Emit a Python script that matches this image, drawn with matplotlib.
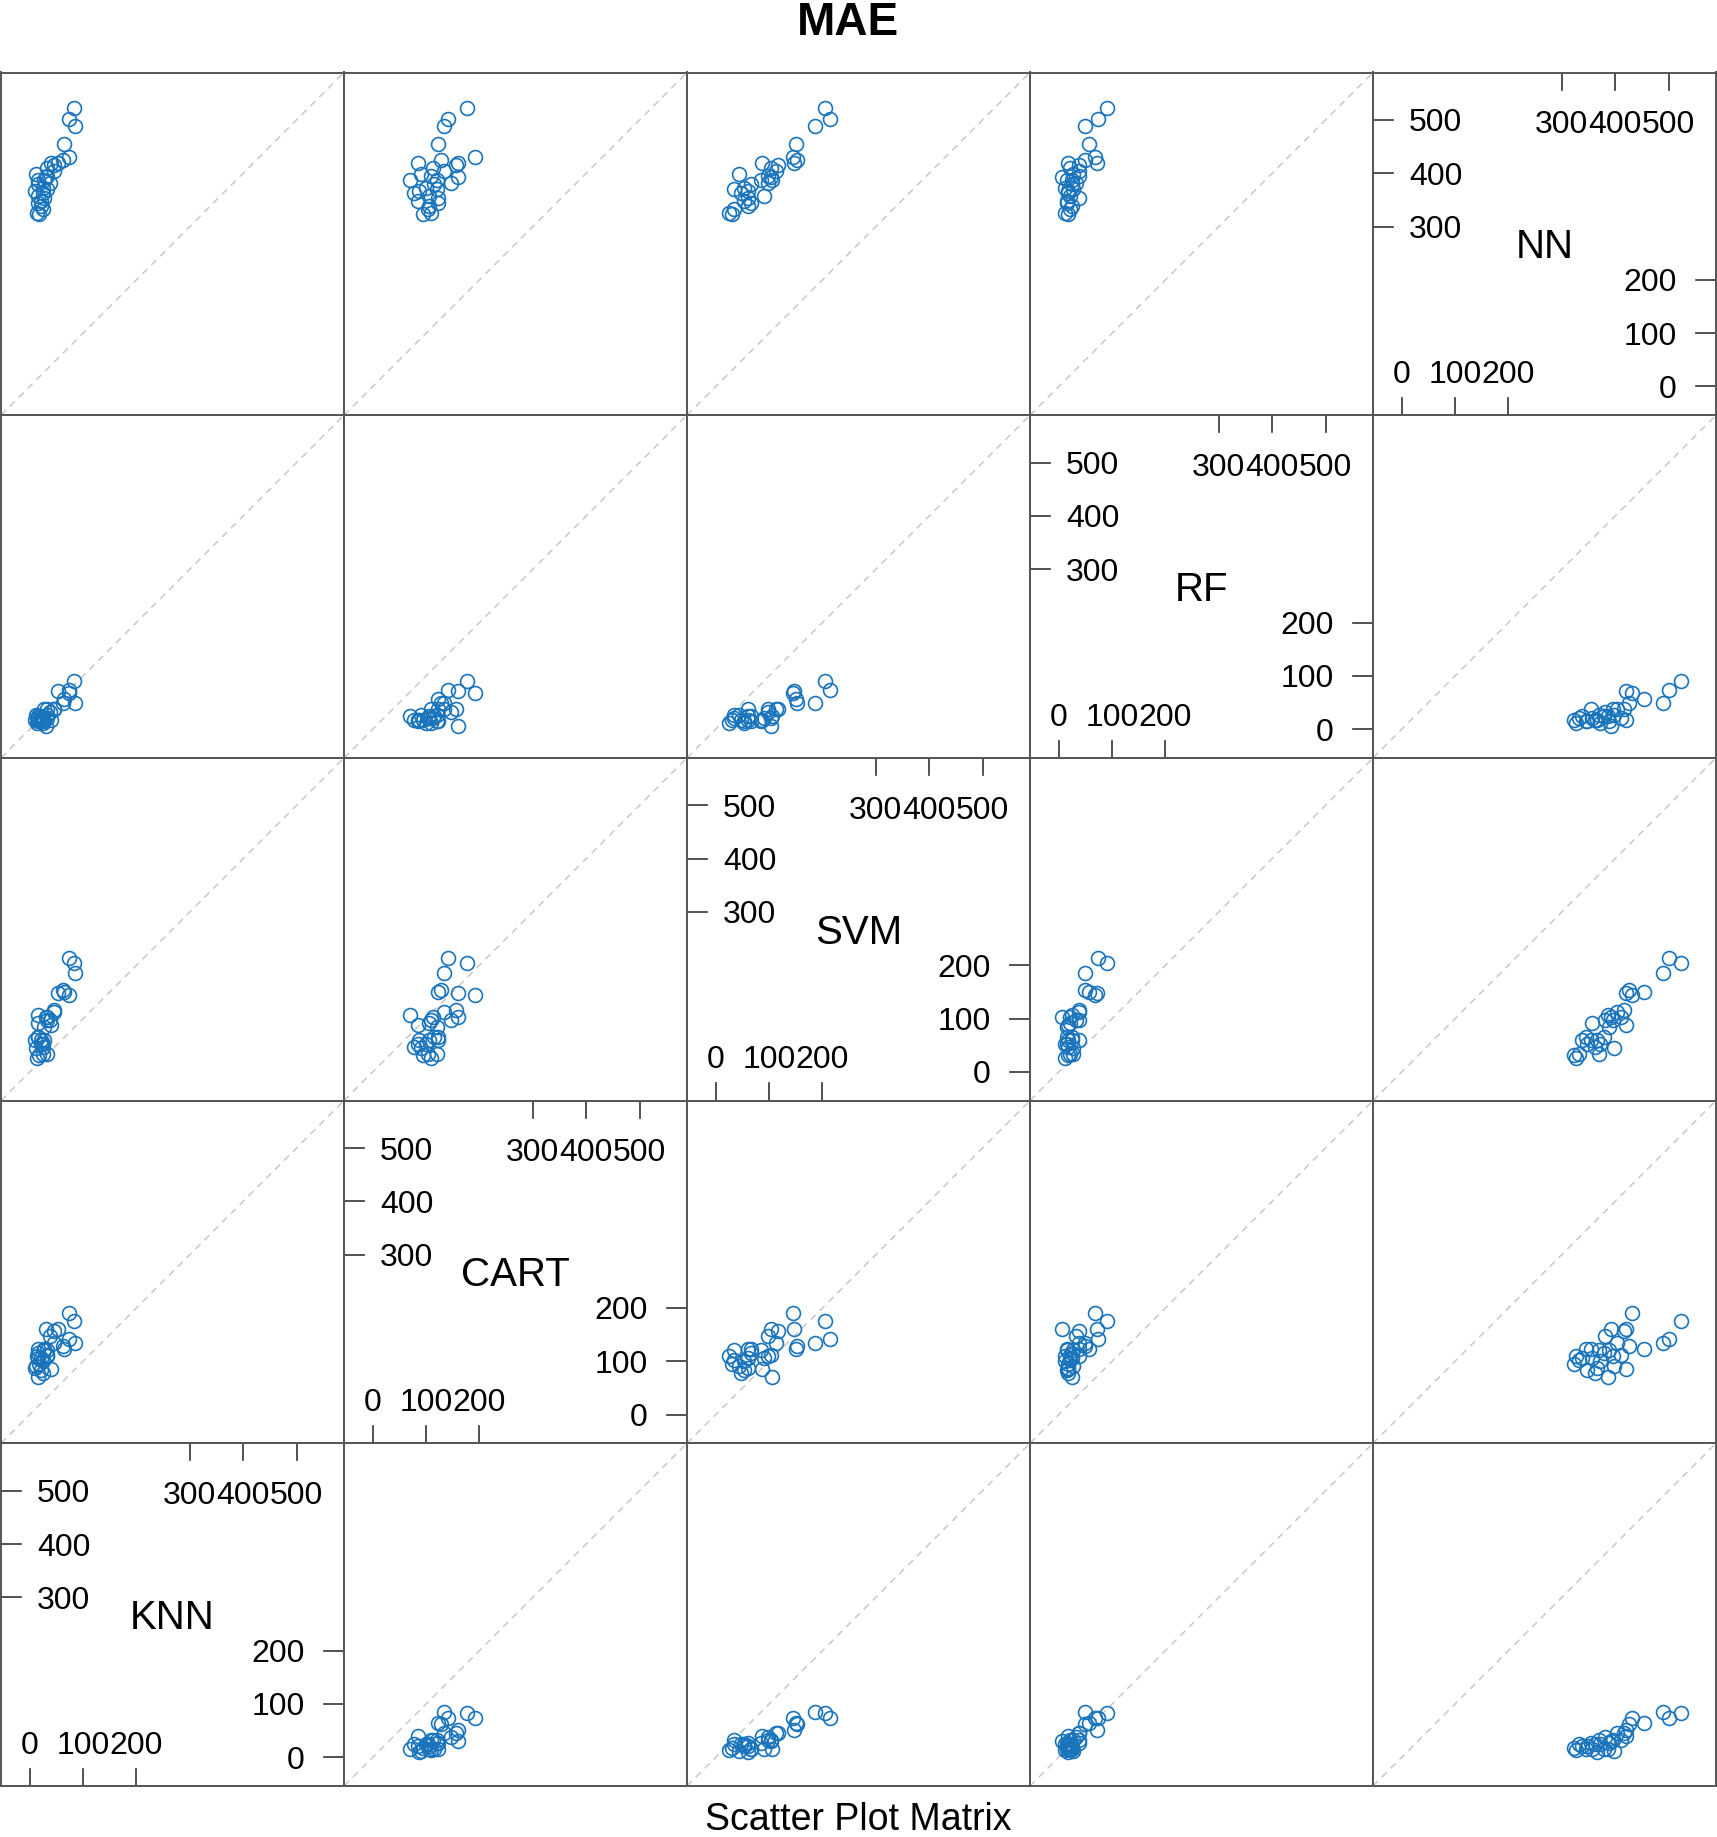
import matplotlib
matplotlib.use("Agg")
import matplotlib.pyplot as plt
import matplotlib.transforms as mtransforms

plt.rcParams['font.family'] = ['Liberation Sans', 'DejaVu Sans']

# MAE of each model on the 30 resamples
names = ['KNN', 'CART', 'SVM', 'RF', 'NN']
NN = [523, 501, 489, 454, 431, 425, 420, 420, 416, 410, 404, 398, 395, 392, 388,
      387, 381, 379, 372, 370, 366, 363, 357, 354, 348, 345, 338, 332, 326, 323]
CART = [176, 141, 134, 123, 191, 128, 160, 85, 156, 112, 134, 91, 109, 160, 121,
        70, 147, 115, 100, 121, 87, 78, 106, 122, 84, 122, 106, 103, 109, 94]
SVM = [205, 214, 186, 150, 144, 153, 147, 87, 116, 103, 113, 44, 97, 103, 84,
       106, 97, 66, 53, 34, 60, 47, 91, 60, 53, 66, 60, 34, 25, 31]
RF = [90, 73, 49, 56, 68, 49, 71, 18, 37, 21, 37, 27, 37, 6, 15,
      24, 33, 24, 12, 27, 18, 18, 21, 37, 15, 15, 24, 21, 12, 18]
KNN = [83, 73, 85, 65, 74, 62, 52, 40, 46, 33, 46, 12, 33, 30, 27,
       15, 37, 15, 24, 33, 9, 24, 15, 27, 21, 15, 21, 24, 14, 18]
values = [KNN, CART, SVM, RF, NN]

low_ticks = [0, 100, 200]
high_ticks = [300, 400, 500]
lims = (-54, 589)

W, H = 1717, 1837
fig = plt.figure(figsize=(W / 100, H / 100), dpi=100)

left0, top0 = 1.0, 72.5
pw, ph = 343.0, 342.7
blue = '#1a74bc'
frame = '#555555'
tick_fs = 23

for i in range(5):          # column -> x variable
    for j in range(5):      # row from bottom -> y variable
        x0 = left0 + i * pw
        y_top = top0 + (4 - j) * ph
        ax = fig.add_axes([x0 / W, 1 - (y_top + ph) / H, pw / W, ph / H])
        ax.set_xlim(lims)
        ax.set_ylim(lims)
        ax.set_xticks([])
        ax.set_yticks([])
        for s in ax.spines.values():
            s.set_color(frame)
            s.set_linewidth(1.4)

        if i != j:
            ax.plot(lims, lims, color='#c4c4c4', lw=1.0, ls=(0, (5, 4)), zorder=1)
            ax.plot(values[i], values[j], 'o', mfc='none', mec=blue, ms=10,
                    mew=1.2, zorder=2)
            continue

        # diagonal panel: variable name and axis scales
        ta = mtransforms.offset_copy(ax.transAxes, fig, y=-3.5, units='dots')
        ax.text(0.5, 0.5, names[i], transform=ta, ha='center',
                va='center', fontsize=29)
        ty = mtransforms.blended_transform_factory(ax.transAxes, ax.transData)
        tx = mtransforms.blended_transform_factory(ax.transData, ax.transAxes)
        ty_t = mtransforms.offset_copy(ty, fig, y=-3.5, units='dots')
        tx_t = mtransforms.offset_copy(tx, fig, y=-3.5, units='dots')
        for v in high_ticks:
            ax.plot([0, 0.058], [v, v], color='#333333', lw=1.2, transform=ty)
            ax.text(0.105, v, str(v), transform=ty_t, ha='left', va='center',
                    fontsize=tick_fs)
            ax.plot([v, v], [1, 0.95], color='#333333', lw=1.2, transform=tx)
            ax.text(v, 0.856, str(v), transform=tx_t, ha='center', va='center',
                    fontsize=tick_fs)
        for v in low_ticks:
            ax.plot([1, 0.942], [v, v], color='#333333', lw=1.2, transform=ty)
            ax.text(0.886, v, str(v), transform=ty_t, ha='right', va='center',
                    fontsize=tick_fs)
            ax.plot([v, v], [0, 0.05], color='#333333', lw=1.2, transform=tx)
            ax.text(v, 0.128, str(v), transform=tx_t, ha='center', va='center',
                    fontsize=tick_fs)

fig.text(848 / W, 1 - 35 / H, 'MAE', ha='center', va='baseline',
         fontsize=33, fontweight='bold')
fig.text(858 / W, 1 - 1830 / H, 'Scatter Plot Matrix', ha='center',
         va='baseline', fontsize=27)

fig.savefig('out.png', dpi=100)
